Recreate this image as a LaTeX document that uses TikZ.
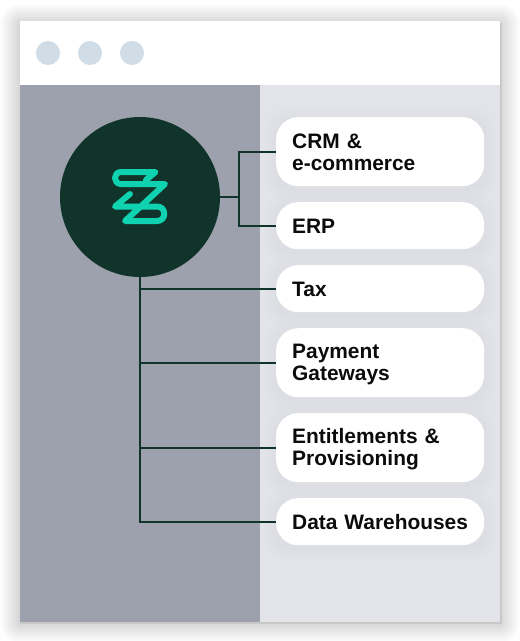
\documentclass[tikz,border=0pt]{standalone}
\usepackage{fontspec}
\setmainfont{Liberation Sans}[WordSpace=0.75]
\definecolor{leftp}{HTML}{9CA1AD}
\definecolor{rightp}{HTML}{E3E4E9}
\definecolor{dotc}{HTML}{D0DDE7}
\definecolor{hubc}{HTML}{11342A}
\definecolor{teal}{HTML}{0FD2B0}
\definecolor{inkc}{HTML}{0B0B0B}
\newcommand\ls{\rule[-3.5pt]{0pt}{22pt}}
\normallineskiplimit=-20pt
\lineskiplimit=-20pt
\tikzset{
  pillbox/.style={rectangle, rounded corners=22pt, fill=white, minimum width=208pt, text width=176pt, align=left, inner sep=0pt, anchor=north west, font=\fontsize{20.9}{22}\selectfont\bfseries, text=inkc},
  link/.style={draw=hubc, line width=1.9pt},
  dotn/.style={circle, fill=dotc, minimum size=24pt, inner sep=0pt},
}
\begin{document}
\begin{tikzpicture}[x=1pt,y=-1pt]
\useasboundingbox (0,0) rectangle (520,641);
% window shadow
\foreach \i in {1,2,...,20}{
  \fill[black,opacity=0.006,rounded corners=\i pt] (20-\i,21-\i+3) rectangle (500+\i,622+\i+1);
}
\fill[black,opacity=0.07] (20,23) rectangle (501.5,624);
% window
\fill[white] (20,21) rectangle (500,85);
\fill[leftp] (20,85) rectangle (260,622);
\fill[rightp] (260,85) rectangle (500,622);
\node[dotn] (d1) at (48,53) {};
\node[dotn] (d2) at (90,53) {};
\node[dotn] (d3) at (132,53) {};
% pill shadows
\foreach \ya/\yb in {117/186,202/249,265/312,328/397,413/482,498/545}{
  \foreach \i in {2,4,...,12}{
    \fill[black,opacity=0.004,rounded corners=22pt] (276-\i,\ya-\i+3) rectangle (484+\i,\yb+\i+3);
  }
}
% pills
\node[pillbox, minimum height=69pt] (crm) at (276,117) {\ls CRM \&\\\ls e-commerce};
\node[pillbox, minimum height=47pt] (erp) at (276,202) {\ls ERP};
\node[pillbox, minimum height=47pt] (tax) at (276,265) {\ls Tax};
\node[pillbox, minimum height=69pt] (pay) at (276,328) {\ls Payment\\\ls Gateways};
\node[pillbox, minimum height=69pt] (ent) at (276,413) {\ls Entitlements \&\\\ls Provisioning};
\node[pillbox, minimum height=47pt] (dw) at (276,498) {\ls Data Warehouses};
% hub
\node[circle, fill=hubc, minimum size=160pt, inner sep=0pt] (hub) at (140,197) {};
% connectors
\coordinate (fork) at (239,197);
\draw[link] (hub.east) -- (fork);
\draw[link] (crm.west) -| (fork);
\draw[link] (erp.west) -| (fork);
\draw[link] (hub.south) |- (tax.west);
\draw[link] (hub.south) |- (pay.west);
\draw[link] (hub.south) |- (ent.west);
\draw[link] (hub.south) |- (dw.west);
% logo
\draw[teal, line width=6pt, line cap=round, line join=round]
  (146,180) -- (155.5,172) -- (121,172)
  .. controls (113,172) and (113,184) .. (121,184)
  -- (165,184) -- (125,221) -- (157,221)
  .. controls (166.7,221) and (166.7,206.5) .. (157,206.5)
  -- (115,206.5) -- (130,194);
\end{tikzpicture}
\end{document}
